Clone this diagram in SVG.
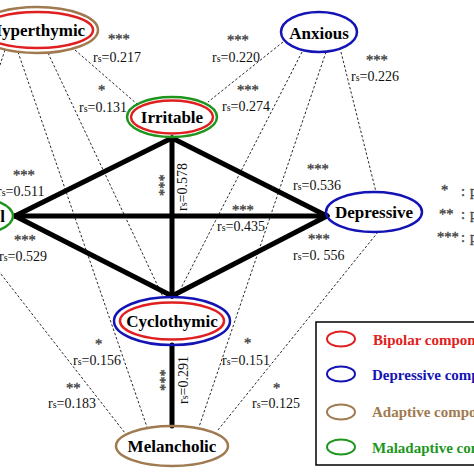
<svg xmlns="http://www.w3.org/2000/svg" width="474" height="474" viewBox="0 0 474 474">
<style>
.nt{font-family:"Liberation Serif","Times New Roman",serif;font-weight:bold;font-size:17px;fill:#000;text-anchor:middle}
.lb{font-family:"Liberation Serif","Times New Roman",serif;font-size:14px;fill:#111}
.st{font-family:"Liberation Serif","Times New Roman",serif;font-size:14.5px;fill:#4a4a4a;stroke:#4a4a4a;stroke-width:0.4}
.sub{font-size:10px}
.thick{stroke:#000;stroke-width:5;fill:none;stroke-linecap:round}
.dash{stroke:#2a2a2a;stroke-width:1;fill:none;stroke-dasharray:2.5 2}
.red{fill:none;stroke:#e02020;stroke-width:2.5}
.blue{fill:none;stroke:#1414b4;stroke-width:2.5}
.brown{fill:none;stroke:#a07a50;stroke-width:2.5}
.green{fill:none;stroke:#1e961e;stroke-width:2.5}
.lg{font-family:"Liberation Serif","Times New Roman",serif;font-weight:bold;font-size:15px}
</style>
<rect width="474" height="474" fill="#fff"/>
<g id="connectors">
<line class="dash" x1="75" y1="50" x2="137" y2="104"/>
<line class="dash" x1="48" y1="53" x2="163" y2="297"/>
<line class="dash" x1="18" y1="52" x2="147" y2="427"/>
<line class="dash" x1="5" y1="50" x2="-15" y2="110"/>
<line class="dash" x1="283" y1="42" x2="208" y2="102"/>
<line class="dash" x1="302" y1="52" x2="177" y2="296"/>
<line class="dash" x1="326" y1="52" x2="199" y2="427"/>
<line class="dash" x1="341" y1="52" x2="376" y2="192"/>
<line class="dash" x1="378" y1="232" x2="218" y2="430"/>
<line class="dash" x1="-35" y1="228" x2="125" y2="433"/>
<line class="thick" x1="172" y1="138" x2="172" y2="296"/>
<line class="thick" x1="15" y1="216" x2="327" y2="216"/>
<line class="thick" x1="172" y1="138" x2="15" y2="216"/>
<line class="thick" x1="172" y1="138" x2="327" y2="216"/>
<line class="thick" x1="15" y1="216" x2="172" y2="296"/>
<line class="thick" x1="327" y1="216" x2="172" y2="296"/>
<line class="thick" x1="172" y1="345" x2="172" y2="426"/>
</g>
<g id="labels">
<text class="st" x="108" y="44">***</text>
<text class="lb" x="93" y="62">r<tspan class="sub">s</tspan>=0.217</text>
<text class="st" x="98" y="95">*</text>
<text class="lb" x="79" y="112">r<tspan class="sub">s</tspan>=0.131</text>
<text class="st" x="227" y="45">***</text>
<text class="lb" x="212" y="62">r<tspan class="sub">s</tspan>=0.220</text>
<text class="st" x="237" y="95">***</text>
<text class="lb" x="222" y="111">r<tspan class="sub">s</tspan>=0.274</text>
<text class="st" x="366" y="65">***</text>
<text class="lb" x="351" y="81">r<tspan class="sub">s</tspan>=0.226</text>
<text class="st" x="13" y="180">***</text>
<text class="lb" x="-3" y="196">r<tspan class="sub">s</tspan>=0.511</text>
<text class="st" x="14" y="245">***</text>
<text class="lb" x="-1" y="261">r<tspan class="sub">s</tspan>=0.529</text>
<text class="st" transform="translate(169,196) rotate(-90)">***</text>
<text class="lb" transform="translate(187,211) rotate(-90)">r<tspan class="sub">s</tspan>=0.578</text>
<text class="st" x="232" y="215">***</text>
<text class="lb" x="217" y="231">r<tspan class="sub">s</tspan>=0.435</text>
<text class="st" x="307" y="174">***</text>
<text class="lb" x="293" y="190">r<tspan class="sub">s</tspan>=0.536</text>
<text class="st" x="308" y="244">***</text>
<text class="lb" x="293" y="260">r<tspan class="sub">s</tspan>=0. 556</text>
<text class="st" x="95" y="349">*</text>
<text class="lb" x="73" y="365">r<tspan class="sub">s</tspan>=0.156</text>
<text class="st" x="66" y="393">**</text>
<text class="lb" x="48" y="408">r<tspan class="sub">s</tspan>=0.183</text>
<text class="st" transform="translate(170,391) rotate(-90)">***</text>
<text class="lb" transform="translate(188,404) rotate(-90)">r<tspan class="sub">s</tspan>=0.291</text>
<text class="st" x="244" y="348">*</text>
<text class="lb" x="222" y="365">r<tspan class="sub">s</tspan>=0.151</text>
<text class="st" x="273" y="393">*</text>
<text class="lb" x="252" y="408">r<tspan class="sub">s</tspan>=0.125</text>
</g>
<g id="hyperthymic">
<ellipse class="brown" cx="37" cy="30" rx="61" ry="23"/>
<ellipse class="red" cx="37" cy="30" rx="56" ry="18"/>
<text class="nt" x="37" y="36">Hyperthymic</text>
</g>
<g id="anxious">
<ellipse class="blue" cx="319" cy="32" rx="38" ry="20"/>
<text class="nt" x="319" y="39">Anxious</text>
</g>
<g id="irritable">
<ellipse class="green" cx="172" cy="117" rx="45" ry="20"/>
<ellipse class="red" cx="172" cy="117" rx="41" ry="16.5"/>
<text class="nt" x="172" y="123">Irritable</text>
</g>
<g id="left-node">
<ellipse class="green" cx="-35" cy="216" rx="48" ry="20"/>
<text class="nt" x="5" y="222" style="text-anchor:end">l</text>
</g>
<g id="depressive">
<ellipse class="blue" cx="374" cy="212" rx="48" ry="20"/>
<text class="nt" x="374" y="218">Depressive</text>
</g>
<g id="cyclothymic">
<ellipse class="blue" cx="172" cy="321" rx="58" ry="24"/>
<ellipse class="red" cx="172" cy="321" rx="52" ry="18.5"/>
<text class="nt" x="172" y="327">Cyclothymic</text>
</g>
<g id="melancholic">
<ellipse class="brown" cx="172" cy="446" rx="56" ry="20"/>
<text class="nt" x="172" y="452">Melancholic</text>
</g>
<g id="significance">
<text class="st" x="441" y="195">*</text>
<text class="st" x="439" y="219">**</text>
<text class="st" x="437" y="242">***</text>
<text class="st" x="461" y="196">:</text>
<text class="st" x="461" y="219">:</text>
<text class="st" x="461" y="242">:</text>
<text class="st" x="470" y="196">p&lt;0.05</text>
<text class="st" x="470" y="219">p&lt;0.01</text>
<text class="st" x="470" y="242">p&lt;0.001</text>
</g>
<g id="legend">
<rect x="316" y="322" width="170" height="143" fill="none" stroke="#000" stroke-width="1.5"/>
<ellipse class="red" cx="341" cy="339" rx="14" ry="7.5" style="stroke-width:2"/>
<text class="lg" x="373" y="345" fill="#e02020">Bipolar component</text>
<ellipse class="blue" cx="341" cy="374" rx="14" ry="7.5" style="stroke-width:2"/>
<text class="lg" x="372" y="380" fill="#1414b4">Depressive component</text>
<ellipse class="brown" cx="341" cy="412" rx="14" ry="7.5" style="stroke-width:2"/>
<text class="lg" x="372" y="417" fill="#a07a50">Adaptive component</text>
<ellipse class="green" cx="341" cy="447" rx="14" ry="7.5" style="stroke-width:2"/>
<text class="lg" x="372" y="453" fill="#1e961e">Maladaptive component</text>
</g>
</svg>
